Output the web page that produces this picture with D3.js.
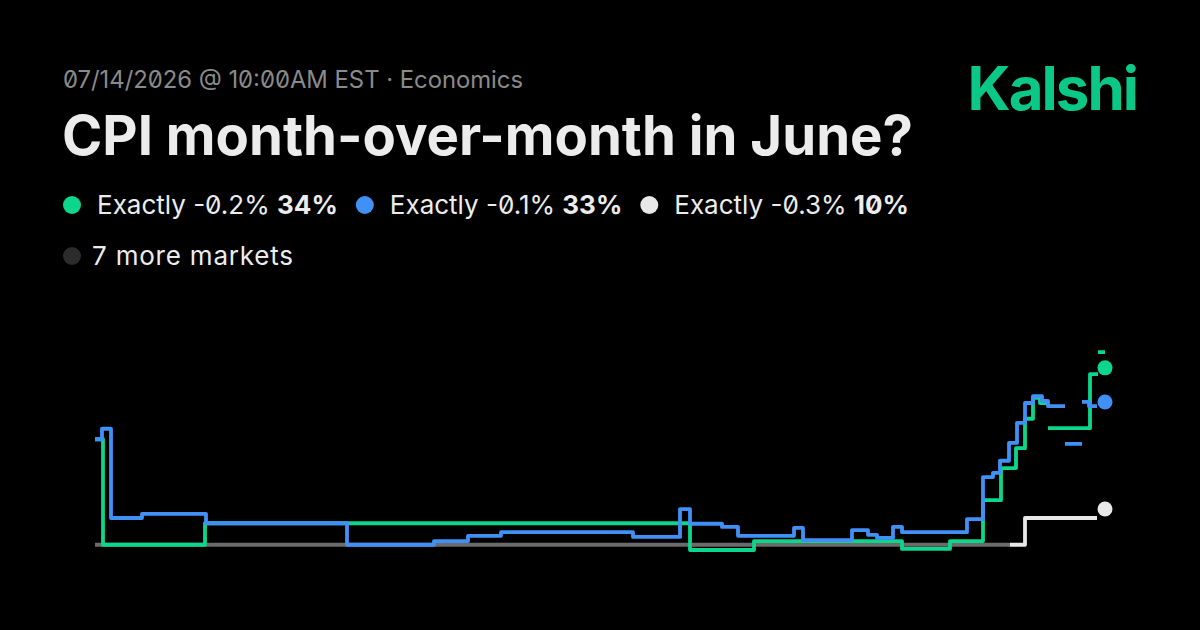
<!DOCTYPE html>
<html>
<head>
<meta charset="utf-8">
<script src="https://cdn.jsdelivr.net/npm/d3@7"></script>
<style>
  html, body { margin: 0; padding: 0; background: #000; }
  svg { display: block; font-family: Inter, "Noto Sans", sans-serif; font-feature-settings: "zero" 1; }
</style>
</head>
<body>
<div class="container"></div>
<script>
const width = 1200;
const height = 630;

// time index (hours since market open), chance in %
const blueSteps = [
  [0, 21.1], [7, 23.1], [16, 6.1], [47, 6.9], [111, 5.1], [252, 1.0], [339, 1.7],
  [373, 2.7], [406, 3.4], [538, 2.5], [585, 7.8], [595, 5.0], [627, 4.4], [643, 2.7],
  [699, 4.2], [708, 1.9], [757, 3.8], [773, 2.9], [782, 2.3], [798, 4.4], [807, 3.4],
  [872, 5.9], [888, 13.9], [898, 14.7], [905, 17.0], [914, 20.4], [922, 24.2],
  [930, 28.0], [938, 29.3], [947, 28.4], [953, 27.4], [970, 27.4], [970, null],
  [970, 20.2], [987, 20.2], [987, null], [987, 28.2], [994, 27.4], [1002, 27.4]
];
const greenSteps = [
  [0, 21.1], [8, 1.0], [110, 5.1], [595, 0], [659, 1.7], [807, 0.2], [855, 1.7],
  [888, 9.5], [906, 15.6], [921, 19.4], [930, 25.0], [938, 29.0], [945, 28.0],
  [953, 28.0], [953, null], [953, 23.2], [995, 33.5], [1003, 33.5], [1003, null],
  [1003, 37.7], [1010, 37.7]
];
const whiteSteps = [[915, 1.0], [930, 6.1], [1002, 6.1]];
const otherSteps = [[0, 1.0], [915, 1.0]];

const seriesNames = ["Exactly -0.2%", "Exactly -0.1%", "Exactly -0.3%"];
const seriesChance = ["34%", "33%", "10%"];
const lastValues = [34.7, 28.2, 7.8];
const seriesColors = ["#0cd68c", "#4190f6", "#e8e8e8"];
const otherLabel = "7 more markets";

const svg = d3.select(".container")
  .append("svg")
  .attr("width", width)
  .attr("height", height)
  .style("background", "#000");

// header
svg.append("text")
  .attr("x", 63).attr("y", 88)
  .attr("fill", "#8a8a8a")
  .style("font-size", "23.8px")
  .text("07/14/2026 @ 10:00AM EST · Economics");

svg.append("text")
  .attr("x", 62).attr("y", 155)
  .attr("fill", "#ececec")
  .style("font-size", "54.5px")
  .style("font-weight", 700)
  .text("CPI month-over-month in June?");

svg.append("text")
  .attr("x", 1137).attr("y", 110)
  .attr("text-anchor", "end")
  .attr("fill", "#0cc886")
  .style("font-size", "60px")
  .style("font-weight", 700)
  .style("letter-spacing", "-2px")
  .text("Kalshi");

// legend
const legend = svg.append("g").style("font-size", "26px");
let lx = 72;
seriesNames.forEach((name, i) => {
  legend.append("circle").attr("cx", lx).attr("cy", 205).attr("r", 9).attr("fill", seriesColors[i]);
  const t = legend.append("text").attr("x", lx + 25).attr("y", 214).attr("fill", "#ececec");
  t.append("tspan").text(name + " ");
  t.append("tspan").style("font-weight", 700).text(seriesChance[i]);
  lx = lx + 25 + t.node().getComputedTextLength() + 27;
});
legend.append("circle").attr("cx", 72).attr("cy", 256).attr("r", 9).attr("fill", "#2c2c2c");
legend.append("text").attr("x", 92).attr("y", 265).attr("fill", "#ececec")
  .style("letter-spacing", "0.8px")
  .text(otherLabel);

// chart
const x = d3.scaleLinear().domain([0, 1010]).range([95, 1105]);
const y = d3.scaleLinear().domain([0, 40]).range([550, 340]);

const line = d3.line()
  .defined(d => d[1] !== null)
  .x(d => x(d[0]))
  .y(d => y(d[1]))
  .curve(d3.curveStepAfter);

const plot = svg.append("g")
  .attr("fill", "none")
  .attr("stroke-width", 3.8)
  .attr("stroke-linejoin", "round");

plot.append("path").datum(otherSteps).attr("stroke", "#6b6b6b").attr("d", line);
plot.append("path").datum(whiteSteps).attr("stroke", seriesColors[2]).attr("d", line);
plot.append("path").datum(greenSteps).attr("stroke", seriesColors[0]).attr("d", line);
plot.append("path").datum(blueSteps).attr("stroke", seriesColors[1]).attr("d", line);

svg.append("g")
  .selectAll("circle")
  .data(lastValues)
  .join("circle")
    .attr("cx", x(1010))
    .attr("cy", d => y(d))
    .attr("r", 7.5)
    .attr("fill", (d, i) => seriesColors[i]);
</script>
</body>
</html>
